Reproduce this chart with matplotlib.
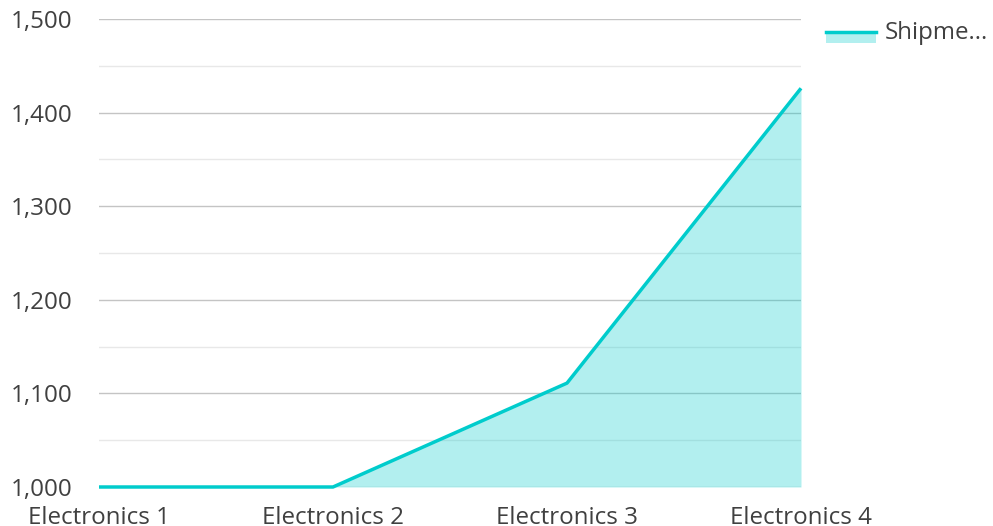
import matplotlib.pyplot as plt
from matplotlib.ticker import MultipleLocator, FuncFormatter
from matplotlib.patches import Rectangle
from matplotlib.lines import Line2D

# data
categories = ["Electronics 1", "Electronics 2", "Electronics 3", "Electronics 4"]
shipments = [1000, 1000, 1111, 1426]
series_label = "Shipme\u2026"

LINE = "#00cccc"
TEXT = "#404040"
FS = 17.4

plt.rcParams['font.family'] = ['Open Sans', 'DejaVu Sans']

fig = plt.figure(figsize=(9.93, 5.26), dpi=100)
ax = fig.add_axes([99 / 993, 1 - 487 / 526, 702 / 993, 468 / 526])

x = list(range(len(categories)))
ax.fill_between(x, 1000, shipments, color=LINE, alpha=0.3, linewidth=0, zorder=2)
ax.plot(x, shipments, color=LINE, linewidth=2.5, clip_on=False, zorder=3,
        solid_capstyle='butt')

ax.set_xlim(0, len(categories) - 1)
ax.set_ylim(1000, 1500)
ax.yaxis.set_major_locator(MultipleLocator(100))
ax.yaxis.set_minor_locator(MultipleLocator(50))
ax.yaxis.set_major_formatter(FuncFormatter(lambda v, p: f"{int(v):,}"))
ax.grid(axis='y', which='major', color='#c4c4c4', linewidth=1.0, zorder=1)
ax.grid(axis='y', which='minor', color='#e8e8e8', linewidth=1.0, zorder=1)
ax.set_axisbelow(True)

ax.set_xticks(x)
ax.set_xticklabels(categories)
for s in ax.spines.values():
    s.set_visible(False)
ax.tick_params(axis='both', which='both', length=0, labelsize=FS, labelcolor=TEXT)
ax.tick_params(axis='y', pad=19)
ax.tick_params(axis='x', pad=13.5)

# legend drawn by hand: fill swatch with line on top, then label
fig.patches.append(Rectangle((826 / 993, 1 - 43 / 526), 50 / 993, 12 / 526,
                             transform=fig.transFigure, facecolor=LINE, alpha=0.3,
                             linewidth=0))
fig.lines.append(Line2D([826 / 993, 876 / 993], [1 - 32 / 526, 1 - 32 / 526],
                        transform=fig.transFigure, color=LINE, linewidth=2.5))
fig.text(885 / 993, 1 - 33 / 526, series_label, fontsize=FS, color=TEXT,
         va='center', ha='left')

fig.savefig("out.png", dpi=100)
